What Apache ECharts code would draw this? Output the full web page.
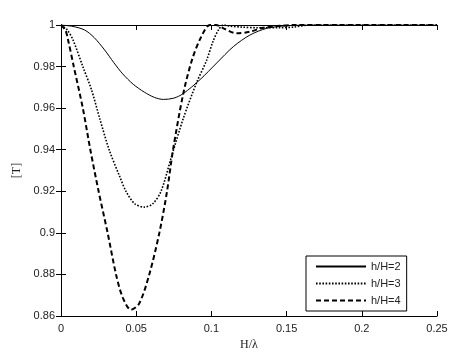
<!DOCTYPE html>
<html><head><meta charset="utf-8">
<script src="https://cdn.jsdelivr.net/npm/echarts@6/dist/echarts.min.js"></script>
<style>html,body{margin:0;padding:0;background:#fff}#c{width:474px;height:356px}</style>
</head><body><div id="c"></div>
<script>
var seriesNames = ['h/H=2', 'h/H=3', 'h/H=4'];
var xTicks = ['0', '0.05', '0.1', '0.15', '0.2', '0.25'];
var yTicks = ['0.86', '0.88', '0.9', '0.92', '0.94', '0.96', '0.98', '1'];

var h2X = [0, 0.008, 0.0157, 0.022, 0.029, 0.035, 0.041, 0.048, 0.0554, 0.062, 0.068, 0.075, 0.0813, 0.0924, 0.1035, 0.1146, 0.1257, 0.1368, 0.1476, 0.16, 0.2, 0.25];
var h2T = [1, 0.9993, 0.9976, 0.994, 0.988, 0.982, 0.9765, 0.9715, 0.9677, 0.9652, 0.9642, 0.9648, 0.967, 0.9737, 0.9817, 0.9896, 0.9952, 0.9984, 0.9995, 1, 1, 1];

var h3X = [0, 0.0042, 0.008, 0.0145, 0.0202, 0.0259, 0.032, 0.0392, 0.0432, 0.049, 0.0554, 0.061, 0.0665, 0.0736, 0.0813, 0.09, 0.0968, 0.101, 0.105, 0.108, 0.112, 0.12, 0.13, 0.145, 0.155, 0.165, 0.2, 0.25];
var h3T = [1, 0.9976, 0.9928, 0.98, 0.969, 0.9546, 0.94, 0.9268, 0.92, 0.914, 0.9124, 0.914, 0.92, 0.937, 0.955, 0.972, 0.983, 0.992, 0.998, 1, 0.9995, 0.999, 0.9987, 0.9987, 0.999, 1, 1, 1];

var h4X = [0, 0.0029, 0.0047, 0.0085, 0.0145, 0.0195, 0.025, 0.031, 0.0366, 0.041, 0.0465, 0.052, 0.0587, 0.0654, 0.0705, 0.0745, 0.0813, 0.087, 0.093, 0.099, 0.103, 0.108, 0.1168, 0.1257, 0.1345, 0.1434, 0.155, 0.2, 0.25];
var h4T = [1, 0.9976, 0.9928, 0.98, 0.96, 0.94, 0.92, 0.9, 0.88, 0.869, 0.863, 0.866, 0.88, 0.9, 0.92, 0.94, 0.967, 0.983, 0.994, 1, 1, 0.9984, 0.996, 0.9968, 0.9987, 0.9995, 1, 1, 1];

function pairs(xs, ys) { return xs.map(function (x, i) { return [x, ys[i]]; }); }

var chart = echarts.init(document.getElementById('c'));
var labelFont = { color: '#222', fontSize: 11, fontFamily: 'Liberation Sans, Arial, sans-serif' };
var tickStyle = { show: true, inside: true, length: 5, lineStyle: { color: '#000', width: 1 } };
var axLine = { show: true, lineStyle: { color: '#000', width: 1 } };

chart.setOption({
  backgroundColor: '#fff',
  animation: false,
  grid: { left: 61, top: 25, right: 37, bottom: 38, containLabel: false },
  xAxis: [{
    type: 'value', min: 0, max: 0.25, interval: 0.05,
    axisLine: axLine, axisTick: tickStyle, splitLine: { show: false },
    axisLabel: Object.assign({ margin: 7, formatter: function (v, i) { return xTicks[i]; } }, labelFont),
    name: 'H/\u03bb', nameLocation: 'middle', nameGap: 23,
    nameTextStyle: { color: '#222', fontSize: 12, fontFamily: 'Liberation Serif, Times New Roman, serif' }
  }, {
    type: 'value', position: 'top', min: 0, max: 0.25, interval: 0.05,
    axisLine: axLine, axisTick: tickStyle, axisLabel: { show: false }, splitLine: { show: false }
  }],
  yAxis: [{
    type: 'value', min: 0.86, max: 1, interval: 0.02,
    axisLine: axLine, axisTick: tickStyle, splitLine: { show: false },
    axisLabel: Object.assign({ margin: 6, formatter: function (v, i) { return yTicks[i]; } }, labelFont),
    name: '[T]', nameLocation: 'middle', nameGap: 30, nameRotate: 90,
    nameTextStyle: { color: '#222', fontSize: 12, fontFamily: 'Liberation Serif, Times New Roman, serif' }
  }, {
    type: 'value', position: 'right', min: 0.86, max: 1, interval: 0.02,
    axisLine: axLine, axisTick: tickStyle, axisLabel: { show: false }, splitLine: { show: false }
  }],
  legend: {
    orient: 'vertical', left: 306, top: 256,
    width: 123, padding: [5, 6, 5, 9],
    itemWidth: 50, itemHeight: 10, itemGap: 6,
    borderColor: '#000', borderWidth: 1, backgroundColor: '#fff',
    itemStyle: { opacity: 0 },
    textStyle: { color: '#222', fontSize: 11, fontFamily: 'Liberation Sans, Arial, sans-serif', padding: [0, 0, 0, 0] },
    data: seriesNames
  },
  series: [{
    name: seriesNames[0], type: 'line', smooth: 0.3, showSymbol: false, symbol: 'none',
    data: pairs(h2X, h2T), lineStyle: { color: '#000', width: 1, type: 'solid' }, itemStyle: { color: '#000' }
  }, {
    name: seriesNames[1], type: 'line', smooth: 0.3, showSymbol: false, symbol: 'none',
    data: pairs(h3X, h3T), lineStyle: { color: '#000', width: 1.6, type: [1.6, 1.6] }, itemStyle: { color: '#000' }
  }, {
    name: seriesNames[2], type: 'line', smooth: 0.3, showSymbol: false, symbol: 'none',
    data: pairs(h4X, h4T), lineStyle: { color: '#000', width: 2, type: [5, 3] }, itemStyle: { color: '#000' }
  }]
});
</script>
</body></html>
